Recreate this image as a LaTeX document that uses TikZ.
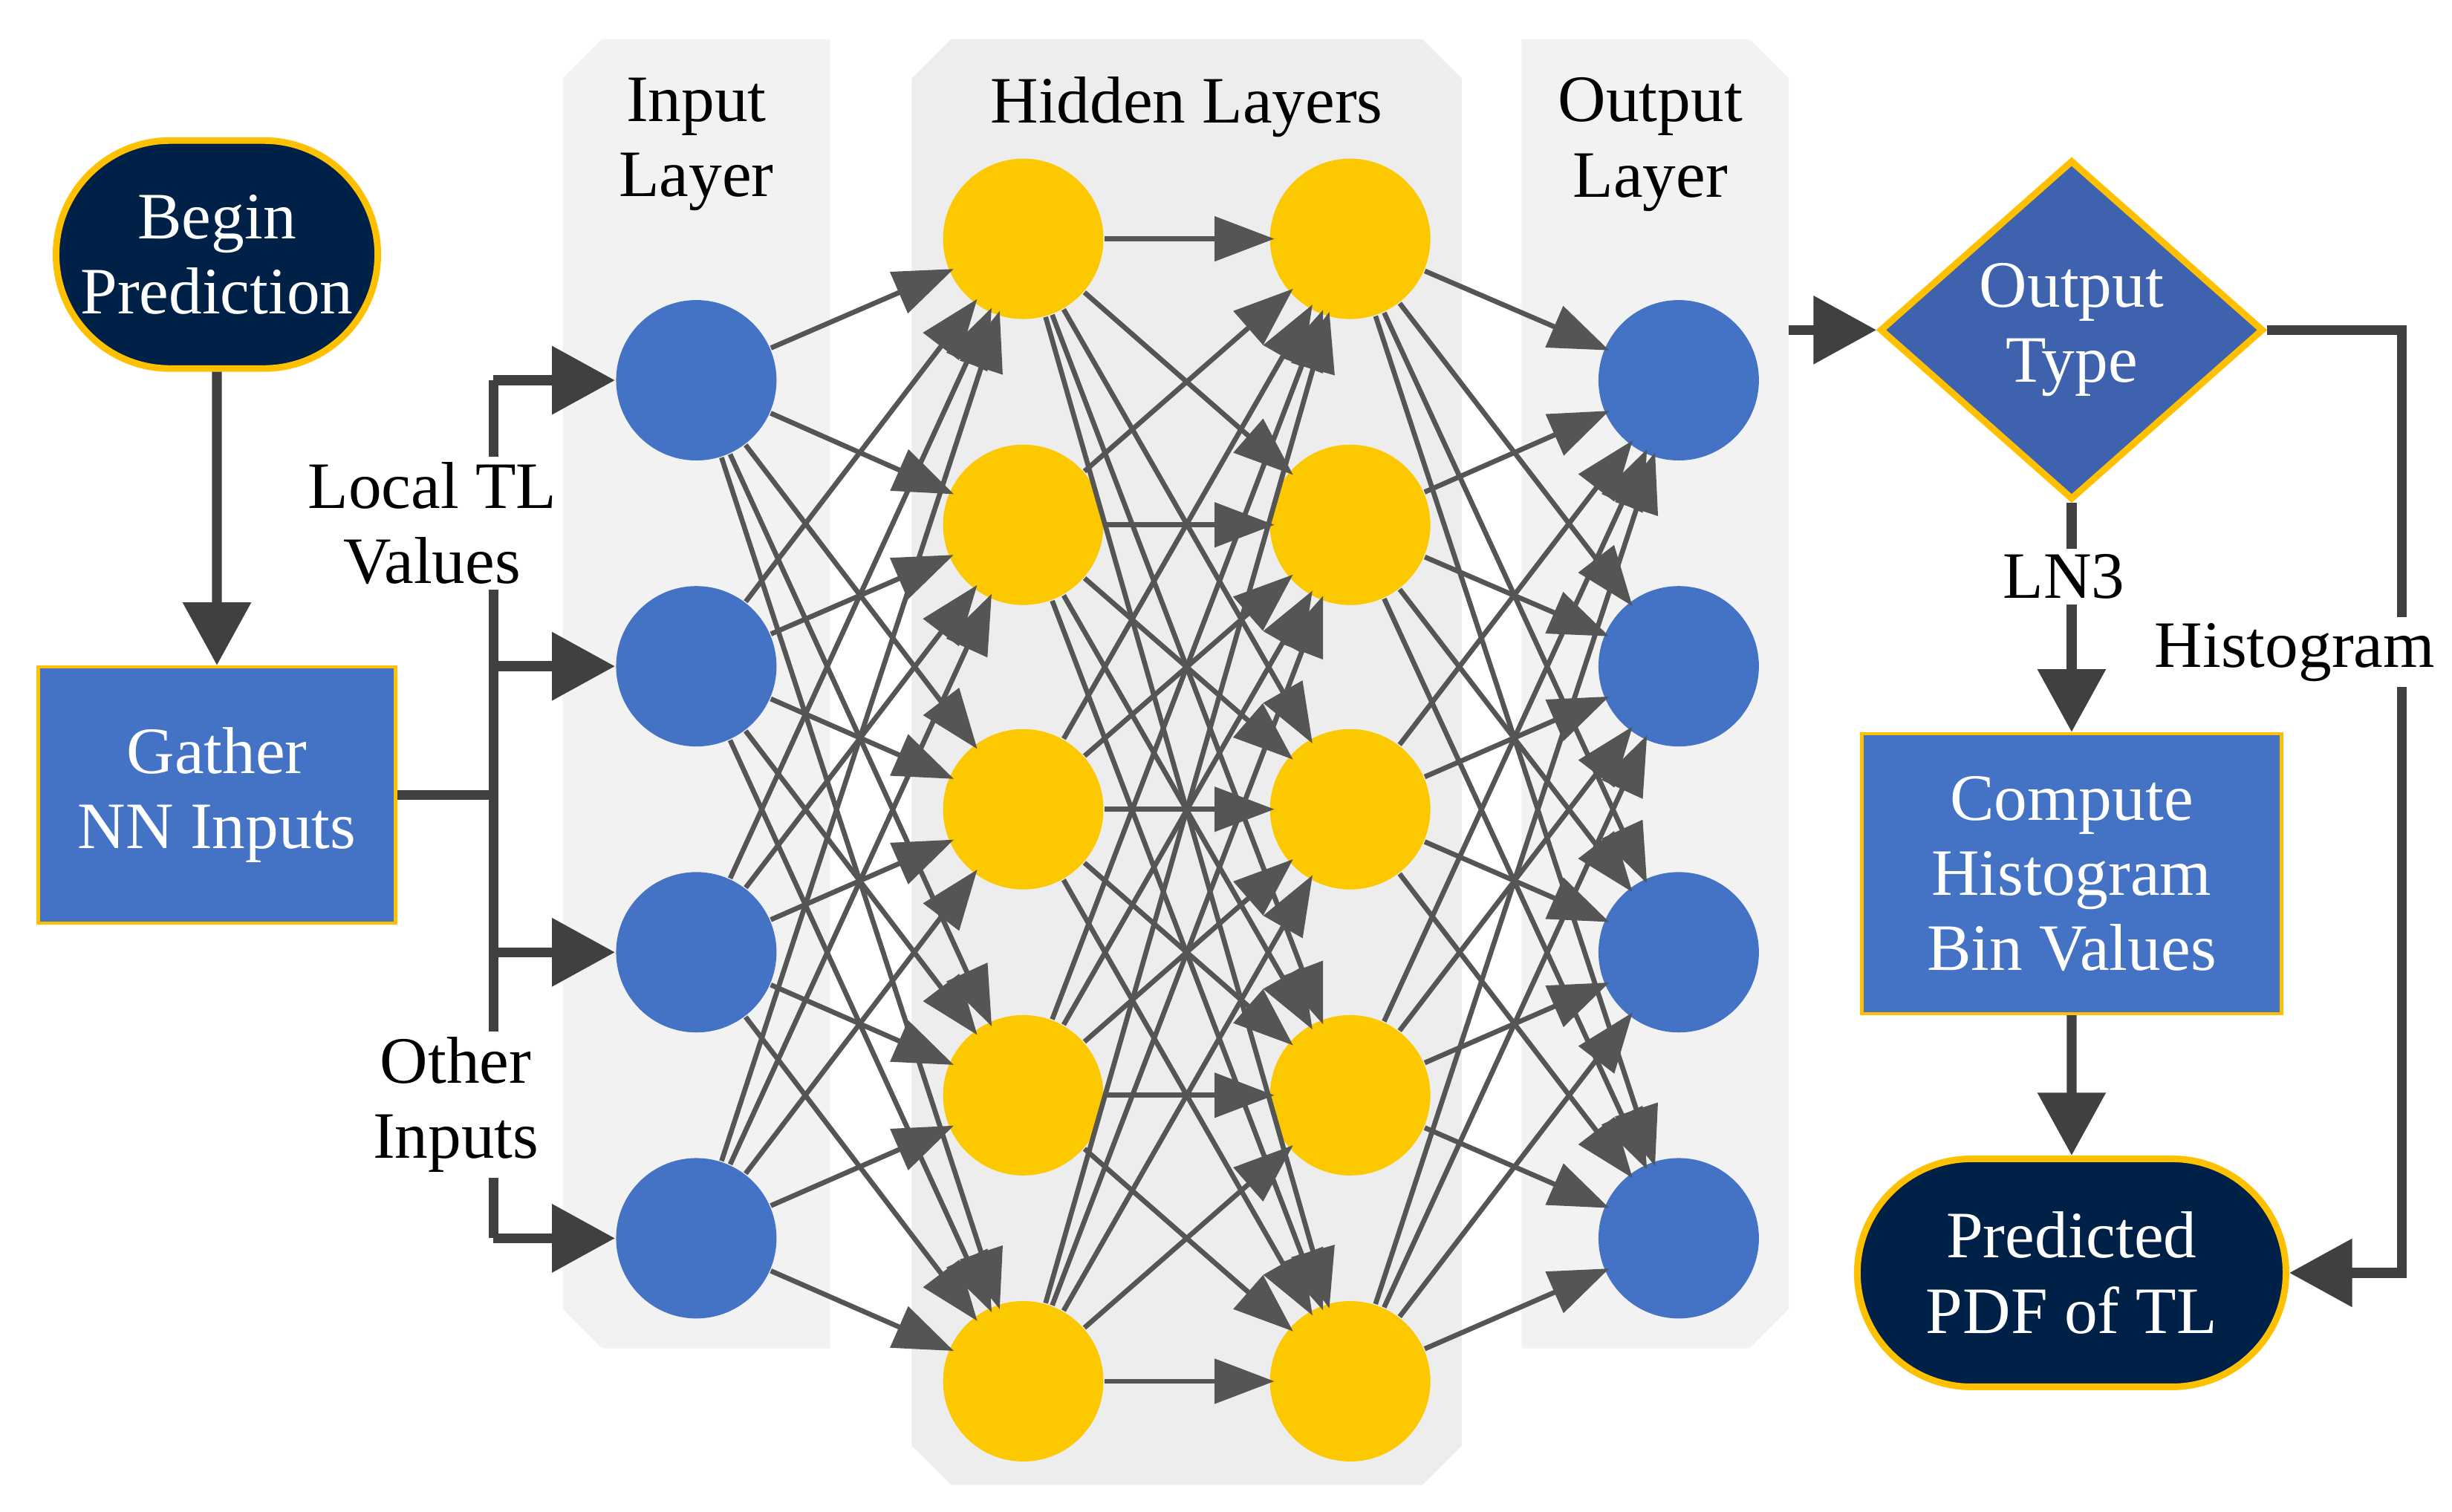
\documentclass[tikz,border=0pt]{standalone}
\usepackage{fontspec}
\setmainfont{Liberation Serif}
\usetikzlibrary{arrows.meta, shapes.geometric}
\definecolor{navy}{HTML}{002147}
\definecolor{nblue}{HTML}{4472C4}
\definecolor{dblue}{HTML}{3F62AE}
\definecolor{nyel}{HTML}{FCC800}
\definecolor{edge}{HTML}{FFC000}
\definecolor{wire}{HTML}{555555}
\definecolor{flow}{HTML}{404040}
\tikzset{
  txt/.style={font=\fontsize{12}{13.6}\selectfont, align=center},
  neuron/.style={circle, minimum size=1.02cm, inner sep=0pt},
  inn/.style={neuron, fill=nblue},
  hid/.style={neuron, fill=nyel},
  mesh/.style={draw=wire, line width=0.9pt, -{Triangle[length=0.38cm,width=0.28cm]}, shorten >=-1pt},
  flowl/.style={draw=flow, line width=1.8pt},
  flowa/.style={flowl, -{Triangle[length=0.4cm,width=0.42cm]}},
  term/.style={txt, rounded rectangle, fill=navy, draw=edge, line width=1.2pt, text=white, minimum width=2.28cm, minimum height=1.45cm},
  proc/.style={txt, rectangle, fill=nblue, draw=edge, line width=0.6pt, text=white},
  lbl/.style={txt, fill=white, inner sep=1pt},
}
\usetikzlibrary{shapes.misc}
\begin{document}
\begin{tikzpicture}[x=0.01cm, y=-0.01cm]
\useasboundingbox (0,0) rectangle (1560,962);
% panels
\fill[black!5] (383,25) -- (528,25) -- (528,858) -- (383,858) -- (358,833) -- (358,50) -- cycle;
\fill[black!7] (605,25) -- (905,25) -- (930,50) -- (930,920) -- (905,945) -- (605,945) -- (580,920) -- (580,50) -- cycle;
\fill[black!5] (968,25) -- (1113,25) -- (1138,50) -- (1138,833) -- (1113,858) -- (968,858) -- cycle;
\node[txt] (tin) at (443,92) {Input\\Layer};
\node[txt] (thid) at (755,68) {Hidden Layers};
\node[txt] (tout) at (1050,92) {Output\\Layer};
% neurons
\foreach \i/\y in {1/242,2/424,3/606,4/788} {
  \node[inn] (i\i) at (443,\y) {};
  \node[inn] (o\i) at (1068,\y) {};
}
\foreach \i/\y in {1/152,2/334,3/515,4/697,5/879} {
  \node[hid] (a\i) at (651,\y) {};
  \node[hid] (b\i) at (859,\y) {};
}
\foreach \s in {1,...,4} \foreach \t in {1,...,5} \draw[mesh] (i\s) -- (a\t);
\foreach \s in {1,...,5} \foreach \t in {1,...,5} \draw[mesh] (a\s) -- (b\t);
\foreach \s in {1,...,5} \foreach \t in {1,...,4} \draw[mesh] (b\s) -- (o\t);
% flowchart
\node[term] (begin) at (138,162) {Begin\\Prediction};
\node[proc, minimum width=2.27cm, minimum height=1.63cm] (gather) at (138,506) {Gather\\NN Inputs};
\draw[flowa] (begin) -- (gather);
\coordinate (bus) at (314,506);
\draw[flowl] (gather) -- (bus);
\draw[flowl] (314,242) -- (314,788);
\foreach \i/\y in {1/242,2/424,3/606,4/788} \draw[flowa] (314,\y) -- (i\i);
\node[lbl] (loc) at (275,333) {Local TL\\Values};
\node[lbl] (oth) at (290,703) {Other\\Inputs};
\node[txt, diamond, aspect=1.13, fill=dblue, draw=edge, line width=1.2pt, text=white, minimum width=2.44cm, minimum height=2.16cm, inner sep=0pt] (otype) at (1318,210) {Output\\Type};
\coordinate (oedge) at (1138,210);
\draw[flowa] (oedge) -- (otype);
\node[proc, minimum width=2.67cm, minimum height=1.78cm] (comp) at (1318,556) {Compute\\Histogram\\Bin Values};
\draw[flowa] (otype) -- (comp);
\node[lbl] (ln3) at (1313,367) {LN3};
\node[term, minimum width=2.96cm] (pred) at (1318,810) {Predicted\\PDF of TL};
\draw[flowa] (comp) -- (pred);
\draw[flowa] (otype.east) -- (1528,210) -- (1528,810) -- (pred.east);
\node[lbl] (hist) at (1460,415) {Histogram};
\end{tikzpicture}
\end{document}
